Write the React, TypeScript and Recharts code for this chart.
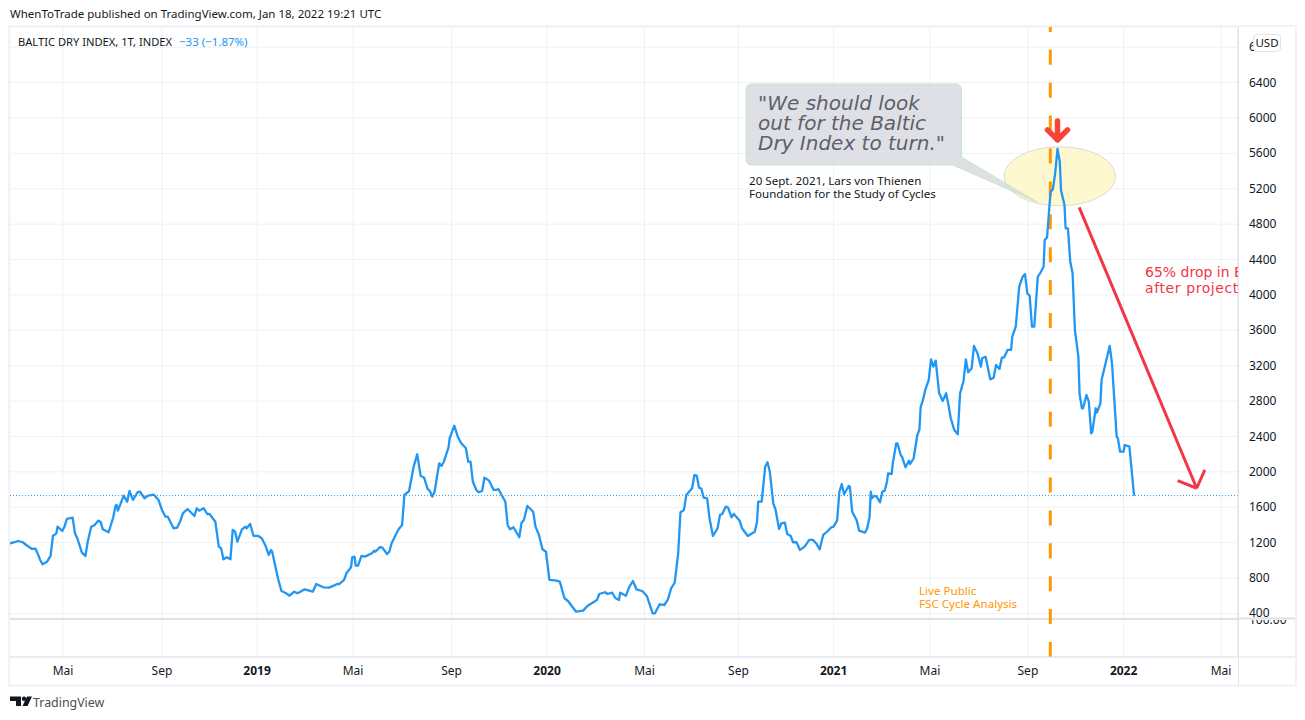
import React from "react";
import {
  ComposedChart, Line, XAxis, YAxis, CartesianGrid, ReferenceLine, ReferenceDot,
} from "recharts";

// Trading-bar number (0 = first visible bar, Feb 2018) of each traced turning point
const bars = [0,4,7,11,14,19,22,24,26,28,32,35,37,40,41,45,47,49,54,56,58,62,65,67,70,73,76,78,80,85,89,91,92,93,98,101,103,106,110,112,116,119,124,128,131,134,136,141,144,147,149,153,159,161,163,167,170,172,177,180,182,184,187,190,192,194,196,200,203,204,207,210,214,217,220,223,225,226,231,234,238,241,245,248,254,261,264,270,275,279,282,284,288,290,294,295,297,298,300,303,306,312,314,315,319,321,325,327,329,332,335,338,340,344,348,351,354,357,360,362,364,366,370,372,374,378,379,383,386,389,393,395,397,399,402,404,407,409,413,417,419,421,427,429,431,434,439,441,443,446,448,451,453,456,459,462,465,471,474,478,481,488,494,498,506,508,513,515,519,522,525,526,531,534,537,540,545,549,554,556,560,564,567,570,573,576,578,581,583,588,590,592,594,596,598,601,603,606,610,612,614,617,619,622,624,629,631,636,642,644,645,648,651,653,655,658,660,663,665,668,670,673,675,678,681,685,689,692,695,698,701,705,708,710,713,715,717,719,723,724,726,730,732,737,739,741,742,743,745,747,750,752,754,756,757,760,761,764,765,768,769,772,775,776,779,782,784,785,787,789,792,794,796,798,801,804,807,809,811,814,817,819,822,824,826,829,831,834,837,838,841,845,848,850,853,855,857,860,863,864,867,870,873,875,877,879,881,883,884,886,888,891,892,894,897,899,901,903,905,906,909,910,912,914,916,918,921,922,924,925,928,930,932,933,936,937,940,941,948,950,954,955,957,960,961,965,969];

// Index close at each of those bars
const closes = [1193,1205,1219,1205,1174,1129,1132,1072,1005,956,985,1050,1276,1306,1381,1332,1381,1468,1483,1306,1250,1087,1050,1211,1381,1400,1449,1437,1351,1318,1487,1618,1626,1562,1731,1663,1784,1683,1770,1776,1702,1731,1742,1683,1570,1494,1494,1363,1370,1449,1532,1581,1502,1589,1562,1589,1524,1524,1437,1155,1137,1012,1035,1012,1344,1324,1211,1351,1381,1363,1411,1276,1276,1250,1174,1061,1118,1098,798,654,628,601,646,628,673,646,733,696,692,714,733,733,779,854,922,1035,1042,940,940,1050,1042,1080,1110,1098,1151,1144,1072,1098,1193,1276,1351,1400,1739,1784,2059,2199,1957,1935,1807,1784,1720,1776,2097,2067,2115,2274,2380,2522,2398,2323,2267,2115,2115,1889,1796,1770,1784,1935,1901,1796,1796,1807,1663,1400,1351,1374,1261,1426,1457,1615,1589,1550,1381,1287,1125,1098,779,771,759,572,541,420,432,488,553,620,640,620,635,572,553,635,601,703,767,673,654,598,402,402,504,496,553,685,748,1080,1544,1570,1739,1815,1965,1957,1822,1810,1709,1702,1476,1276,1363,1513,1524,1607,1596,1487,1524,1449,1363,1276,1324,1437,1663,1663,2059,2109,2002,1645,1570,1355,1419,1426,1298,1276,1205,1205,1118,1155,1231,1231,1193,1125,1287,1332,1374,1381,1449,1776,1863,1747,1841,1833,1550,1449,1336,1313,1363,1494,1776,1702,1731,1720,1657,1776,1788,1889,1984,1976,2097,2323,2323,2183,2172,2052,2127,2089,2154,2406,2481,2730,2813,2926,3039,3272,3189,3257,2888,2801,2888,2756,2606,2474,2425,2888,3027,3272,3126,3171,3423,3340,3189,3284,3302,3046,3065,3208,3163,3291,3295,3378,3378,3528,3641,4093,4206,4236,4018,3991,3641,3641,3830,4206,4244,4319,4621,4651,5166,5193,5374,5650,5505,5186,5016,4753,4753,4375,4244,3604,3302,2888,2719,2719,2869,2793,2436,2454,2719,2669,2775,3039,3423,3227,2398,2380,2228,2228,2304,2285,1732];

const timeTickBars = [45.7,131,213,295.7,380.7,463,547,628,710,793,877.5,960,1044];
const timeTickLabels = ["Mai","Sep","2019","Mai","Sep","2020","Mai","Sep","2021","Mai","Sep","2022","Mai"];
const priceTicks = [400,800,1200,1600,2000,2400,2800,3200,3600,4000,4400,4800,5200,5600,6000,6400,6800];

const lastClose = 1732;
const paneBreak = 338;
const turnBar = 896.8;
const dropStart = { bar: 921.7, price: 4990 };
const dropEnd = { bar: 1023, price: 1815 };
const dropHeadLeft = { bar: 1006.6, price: 1901 };
const dropHeadRight = { bar: 1030, price: 2022 };

const rows = bars.map((bar, i) => ({ bar, close: closes[i] }));

const UI = "'Noto Sans', sans-serif";
const NOTE = "'DejaVu Sans', sans-serif";

const TimeTick = (p: any) => {
  const label = timeTickLabels[timeTickBars.indexOf(p.payload.value)];
  const bold = /^\d/.test(label);
  return (
    <text x={p.x} y={675} textAnchor="middle" fontFamily={UI} fontSize={12}
      fontWeight={bold ? 700 : 400} fill="#131722">{label}</text>
  );
};

const PriceTick = (p: any) => (
  <text x={1249} y={p.y + 4} fontFamily={UI} fontSize={12} fill="#131722">{p.payload.value}</text>
);

const Ellipse = (p: any) => (
  <ellipse cx={p.cx} cy={p.cy} rx={55.7} ry={29.5} fill="#fdf8cf" stroke="#dcdcd0" strokeWidth={1} />
);

const DownArrow = (p: any) => (
  <path d={`M${p.cx} ${p.cy - 28} V${p.cy - 9} M${p.cx - 10} ${p.cy - 19} L${p.cx} ${p.cy - 9} L${p.cx + 10} ${p.cy - 19}`}
    fill="none" stroke="#f94336" strokeWidth={5.5} strokeLinecap="round" strokeLinejoin="round" />
);

const absText = (left: number, top: number, style: any): any => ({
  position: "absolute", left, top, whiteSpace: "nowrap", lineHeight: 1, ...style,
});

export default function App() {
  return (
    <div style={{ position: "absolute", left: 0, top: 0, width: 1305, height: 720, background: "#fff", overflow: "hidden" }}>
      <ComposedChart width={1305} height={720} data={rows}
        margin={{ top: 27, right: 10, bottom: 35, left: 10 }} style={{ position: "absolute", left: 0, top: 0 }}>
        <CartesianGrid stroke="#eff1f4" strokeWidth={1} />
        <XAxis dataKey="bar" type="number" domain={[0, 1058.6]} ticks={timeTickBars} height={28}
          interval={0} tick={<TimeTick />} tickLine={false} axisLine={{ stroke: "#e0e3eb" }} allowDataOverflow />
        <YAxis orientation="right" type="number" domain={[-92, 7028]} ticks={priceTicks} width={57}
          interval={0} tick={<PriceTick />} tickLine={false} axisLine={{ stroke: "#e0e3eb" }} allowDataOverflow />
        <ReferenceLine y={paneBreak} stroke="#dfe1e7" strokeWidth={2} zIndex={100} />
        <ReferenceDot x={905} y={5341} shape={<Ellipse />} zIndex={150} />
        <ReferenceLine x={turnBar} stroke="#ff9800" strokeWidth={3} strokeDasharray="15 17.9" zIndex={200} />
        <ReferenceLine y={lastClose} stroke="#2196f3" strokeWidth={1} strokeDasharray="1 2" zIndex={200} />
        <Line dataKey="close" type="linear" stroke="#2196f3" strokeWidth={2.3} strokeLinejoin="round" dot={false} isAnimationActive={false} />
        <ReferenceLine segment={[{ x: dropStart.bar, y: dropStart.price }, { x: dropEnd.bar, y: dropEnd.price }]} stroke="#f23645" strokeWidth={3} />
        <ReferenceLine segment={[{ x: dropHeadLeft.bar, y: dropHeadLeft.price }, { x: dropEnd.bar, y: dropEnd.price }]} stroke="#f23645" strokeWidth={3} />
        <ReferenceLine segment={[{ x: dropHeadRight.bar, y: dropHeadRight.price }, { x: dropEnd.bar, y: dropEnd.price }]} stroke="#f23645" strokeWidth={3} />
        <ReferenceDot x={903} y={5650} shape={<DownArrow />} />
      </ComposedChart>

      <svg width={1305} height={720} style={{ position: "absolute", left: 0, top: 0, pointerEvents: "none" }}>
        <path d="M752 84 H955 Q961.5 84 961.5 90 V157 L1037 202 L953 165 H752 Q746 165 746 159 V90 Q746 84 752 84 Z"
          fill="#d1d4dc" fillOpacity={0.72} stroke="#c8e6c9" strokeWidth={1} />
        <rect x={9} y={26} width={1287} height={659.5} fill="none" stroke="#f0f3fa" strokeWidth={2} />
        <line x1={1238} x2={1295} y1={618.5} y2={618.5} stroke="#dfe1e7" strokeWidth={2} />
        <line x1={1238} x2={1295} y1={657} y2={657} stroke="#e0e3eb" strokeWidth={1} />
        <line x1={1238.5} x2={1238.5} y1={27} y2={685} stroke="#e0e3eb" strokeWidth={1} />
        <path d="M10 696.5 H21 V706 H16 V701 H10 Z" fill="#131722" />
        <circle cx={24} cy={698.8} r={2.2} fill="#131722" />
        <path d="M27 696.5 H32 L27.5 706 H22.5 Z" fill="#131722" />
      </svg>

      <div style={absText(10, 8, { fontFamily: UI, fontSize: 11.5, color: "#131722" })}>WhenToTrade published on TradingView.com, Jan 18, 2022 19:21 UTC</div>
      <div style={absText(18, 36, { fontFamily: UI, fontSize: 11.15, color: "#131722" })}>BALTIC DRY INDEX, 1T, INDEX</div>
      <div style={absText(179, 36, { fontFamily: UI, fontSize: 11.5, color: "#2196f3" })}>−33 (−1.87%)</div>

      <div style={absText(758, 93, { fontFamily: NOTE, fontStyle: "italic", fontSize: 20, lineHeight: "20px", color: "#5d606b" })}>"We should look<br />out for the Baltic<br />Dry Index to turn."</div>
      <div style={absText(749, 175, { fontFamily: UI, fontSize: 11.6, lineHeight: "12.5px", color: "#131722" })}>20 Sept. 2021, Lars von Thienen<br />Foundation for the Study of Cycles</div>
      <div style={absText(919, 585, { fontFamily: UI, fontSize: 11.6, lineHeight: "12.5px", color: "#ff9800" })}>Live Public<br />FSC Cycle Analysis</div>
      <div style={{ position: "absolute", left: 1145, top: 264, width: 93, height: 35, overflow: "hidden", whiteSpace: "nowrap", fontFamily: NOTE, fontSize: 14, lineHeight: "16px", color: "#f23645" }}>65% drop in B<br /><span style={{ letterSpacing: 0.6 }}>after project</span></div>

      <div style={{ position: "absolute", left: 1249, top: 620, height: 10, width: 46, overflow: "hidden" }}>
        <div style={{ position: "absolute", top: -6, fontFamily: UI, fontSize: 12, lineHeight: "12px", color: "#131722" }}>100.00</div>
      </div>
      <div style={{ position: "absolute", left: 1253, top: 34, width: 28, height: 18, boxSizing: "border-box", background: "#fff", border: "1px solid #e0e3eb", borderRadius: 4, fontFamily: UI, fontSize: 11.5, lineHeight: "16px", textAlign: "center", color: "#131722" }}>USD</div>
      <div style={absText(33, 697, { fontFamily: UI, fontSize: 12.4, color: "#4a4e59" })}>TradingView</div>
    </div>
  );
}
